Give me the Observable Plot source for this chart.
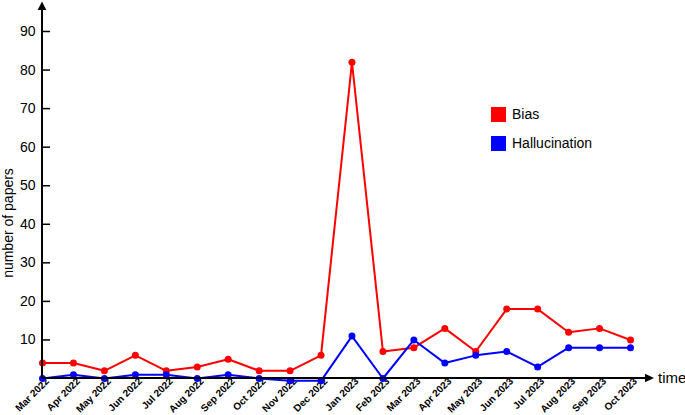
<!DOCTYPE html>
<html><head><meta charset="utf-8">
<script src="https://cdn.jsdelivr.net/npm/d3@7"></script>
<script src="https://cdn.jsdelivr.net/npm/@observablehq/plot@0.6"></script>
<style>
body{margin:0;background:#fff;}
svg{font-family:"Liberation Sans",Arial,sans-serif;}
</style>
</head><body><div id="chart"></div>
<script>
const months = ["Mar 2022","Apr 2022","May 2022","Jun 2022","Jul 2022","Aug 2022","Sep 2022","Oct 2022","Nov 2022","Dec 2022","Jan 2023","Feb 2023","Mar 2023","Apr 2023","May 2023","Jun 2023","Jul 2023","Aug 2023","Sep 2023","Oct 2023"];
const bias = [4,4,2,6,2,3,5,2,2,6,82,7,8,13,7,18,18,12,13,10];
const hallucination = [0,1,0,1,1,0,1,0,-0.6,-0.6,11,0,10,4,6,7,3,8,8,8];
const yTicks = [10,20,30,40,50,60,70,80,90];
const seriesNames = ["Bias","Hallucination"];
const seriesColors = ["#ff0000","#0000ff"];
const yLabel = "number of papers";
const xLabel = "time";

const rows = [];
seriesNames.forEach((s, k) => {
  const vals = k === 0 ? bias : hallucination;
  months.forEach((m, i) => rows.push({i, m, s, v: vals[i]}));
});
const dotRows = [];
months.forEach((m, i) => {
  dotRows.push({i, s: "Bias", v: bias[i]});
  dotRows.push({i, s: "Hallucination", v: hallucination[i]});
});

const n = months.length;
const chart = Plot.plot({
  width: 685, height: 415,
  marginLeft: 42, marginRight: 55, marginTop: 31, marginBottom: 37,
  style: {fontFamily: '"Liberation Sans",Arial,sans-serif', background: "white", color: "black"},
  x: {type: "linear", domain: [0, n - 1]},
  y: {domain: [0, 90]},
  color: {domain: seriesNames, range: seriesColors},
  marks: [
    Plot.ruleY(yTicks, {x1: 0, x2: 0.26, stroke: "black", strokeWidth: 1.5}),
    Plot.axisY({ticks: yTicks, tickSize: 0, tickPadding: 7, fontSize: 14, label: null, tickFormat: d => d}),
    Plot.axisX({ticks: d3.range(n), tickFormat: i => months[i], tickRotate: -45, tickSize: 0, tickPadding: 1, dx: 5, fontSize: 10, fontWeight: "bold", label: null}),
    Plot.line(rows, {x: "i", y: "v", z: "s", stroke: "s", strokeWidth: 2}),
    Plot.dot(dotRows, {x: "i", y: "v", fill: "s", r: 3.5}),
  ]
});

const svg = d3.select(chart);
const xs = chart.scale("x"), ys = chart.scale("y");
const x0 = xs.apply(0), y0 = ys.apply(0);
const g = svg.append("g").attr("text-anchor", "start");
// axes with arrowheads
g.append("line").attr("x1", x0).attr("x2", x0).attr("y1", y0).attr("y2", 9).attr("stroke", "black").attr("stroke-width", 2);
g.append("path").attr("d", `M${x0},1.5L${x0-4.3},10L${x0+4.3},10Z`).attr("fill", "black");
g.append("line").attr("x1", x0).attr("x2", 646).attr("y1", y0).attr("y2", y0).attr("stroke", "black").attr("stroke-width", 2);
g.append("path").attr("d", `M654,${y0}L645,${y0-4.3}L645,${y0+4.3}Z`).attr("fill", "black");
g.append("text").attr("x", 658).attr("y", y0).attr("dy", "0.35em").attr("font-size", 15).attr("text-anchor", "start").text(xLabel);
g.append("text").attr("transform", `translate(8,223) rotate(-90)`).attr("text-anchor", "middle").attr("dy", "0.35em").attr("font-size", 14).text(yLabel);
// legend
seriesNames.forEach((s, k) => {
  const yy = 107 + k * 29;
  g.append("rect").attr("x", 491).attr("y", yy).attr("width", 15).attr("height", 15).attr("fill", seriesColors[k]);
  g.append("text").attr("x", 512).attr("y", yy + 7.5).attr("dy", "0.35em").attr("font-size", 14).attr("text-anchor", "start").text(s);
});

document.getElementById("chart").append(chart);
</script>
</body></html>
